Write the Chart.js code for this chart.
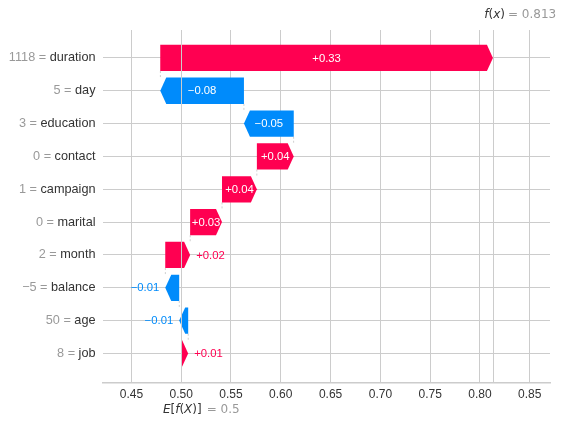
<!DOCTYPE html>
<html><head><meta charset="utf-8">
<script src="https://cdn.jsdelivr.net/npm/chart.js@4"></script>
<style>html,body{margin:0;padding:0;background:#fff}#wrap{width:561px;height:424px}</style>
</head><body><div id="wrap"><canvas id="c"></canvas></div>
<script>
const featureNames = ["duration","day","education","contact","campaign","marital","month","balance","age","job"];
const featureValues = ["1118","5","3","0","1","0","2","\u22125","50","8"];
const shapValues = [0.334,-0.084,-0.050,0.037,0.035,0.032,0.025,-0.014,-0.009,0.007];
const shapLabels = ["+0.33","\u22120.08","\u22120.05","+0.04","+0.04","+0.03","+0.02","\u22120.01","\u22120.01","+0.01"];
const baseValue = 0.5;
const fxValue = 0.813;
const xTicks = [0.45,0.50,0.55,0.60,0.65,0.70,0.75,0.80,0.85];

const RED = '#ff0051', BLUE = '#008bfb';
const n = shapValues.length;
const starts = [], ends = [];
let acc = baseValue;
for (let i = n - 1; i >= 0; i--) { starts[i] = acc; acc += shapValues[i]; ends[i] = acc; }

const HEAD = 6;

function drawSegments(ctx, segs, xRight, y) {
  let total = 0;
  segs.forEach(s => { ctx.font = s.font; total += ctx.measureText(s.t).width; });
  let x = xRight - total;
  ctx.textAlign = 'left';
  segs.forEach(s => { ctx.font = s.font; ctx.fillStyle = s.c; ctx.fillText(s.t, x, y); x += ctx.measureText(s.t).width; });
}

const waterfall = {
  id: 'waterfall',
  beforeDatasetDraw(chart) {
    const ctx = chart.ctx, xs = chart.scales.x, ca = chart.chartArea;
    const meta = chart.getDatasetMeta(0);
    ctx.save();
    // connectors
    ctx.strokeStyle = '#bbbbbb'; ctx.lineWidth = 0.7; ctx.setLineDash([2, 2]);
    for (let i = 0; i < n - 1; i++) {
      const el = meta.data[i], el2 = meta.data[i + 1];
      const x = xs.getPixelForValue(starts[i]);
      ctx.beginPath(); ctx.moveTo(x, el.y + el.height / 2); ctx.lineTo(x, el2.y - el2.height / 2); ctx.stroke();
    }
    ctx.setLineDash([]);
    // arrows
    for (let i = 0; i < n; i++) {
      const el = meta.data[i];
      const x0 = xs.getPixelForValue(starts[i]), x1 = xs.getPixelForValue(ends[i]);
      const dir = x1 >= x0 ? 1 : -1;
      const dist = Math.abs(x1 - x0);
      const hl = Math.min(HEAD, dist);
      const top = el.y - el.height / 2, bot = el.y + el.height / 2;
      ctx.fillStyle = shapValues[i] >= 0 ? RED : BLUE;
      ctx.beginPath();
      ctx.moveTo(x0, top); ctx.lineTo(x1 - dir * hl, top); ctx.lineTo(x1, el.y);
      ctx.lineTo(x1 - dir * hl, bot); ctx.lineTo(x0, bot); ctx.closePath(); ctx.fill();
    }
    // base / fx lines
    ctx.strokeStyle = '#cccccc'; ctx.lineWidth = 1;
    [baseValue, fxValue].forEach(v => {
      const x = Math.round(xs.getPixelForValue(v)) + 0.5;
      ctx.beginPath(); ctx.moveTo(x, ca.top); ctx.lineTo(x, ca.bottom); ctx.stroke();
    });
    // bar labels
    ctx.font = '11.3px "Liberation Sans"';
    ctx.textBaseline = 'middle';
    for (let i = 0; i < n; i++) {
      const el = meta.data[i];
      const x0 = xs.getPixelForValue(starts[i]), x1 = xs.getPixelForValue(ends[i]);
      const dist = Math.abs(x1 - x0);
      const tw = ctx.measureText(shapLabels[i]).width;
      const col = shapValues[i] >= 0 ? RED : BLUE;
      if (tw < dist) {
        ctx.fillStyle = '#ffffff'; ctx.textAlign = 'center';
        ctx.fillText(shapLabels[i], (x0 + x1) / 2, el.y + 0.5);
      } else if (shapValues[i] >= 0) {
        ctx.fillStyle = col; ctx.textAlign = 'left';
        ctx.fillText(shapLabels[i], x1 + 6, el.y + 0.5);
      } else {
        ctx.fillStyle = col; ctx.textAlign = 'right';
        ctx.fillText(shapLabels[i], x1 - 6, el.y + 0.5);
      }
    }
    ctx.restore();
    return false;
  },
  afterDraw(chart) {
    const ctx = chart.ctx, xs = chart.scales.x, ys = chart.scales.y, ca = chart.chartArea;
    ctx.save();
    ctx.textBaseline = 'middle';
    // y labels
    const yf = '12.7px "Liberation Sans"';
    for (let i = 0; i < n; i++) {
      const y = ys.getPixelForValue(i);
      drawSegments(ctx, [
        { t: featureValues[i] + ' = ', c: '#999999', font: yf },
        { t: featureNames[i], c: '#333333', font: yf }
      ], ca.left - 7.5, y);
    }
    const it = 'italic 12px "DejaVu Sans"', rm = '12px "DejaVu Sans"';
    // E[f(X)]
    const bx = xs.getPixelForValue(baseValue);
    drawSegments(ctx, [
      { t: 'E', c: '#333333', font: it }, { t: '[', c: '#333333', font: rm },
      { t: 'f', c: '#333333', font: it }, { t: '(', c: '#333333', font: rm },
      { t: 'X', c: '#333333', font: it }, { t: ')]', c: '#333333', font: rm }
    ], bx + 20.5, 410);
    ctx.font = rm; ctx.fillStyle = '#999999'; ctx.textAlign = 'left';
    ctx.fillText('= ' + String(baseValue), bx + 25.5, 410);
    // f(x)
    const fx = xs.getPixelForValue(fxValue);
    drawSegments(ctx, [
      { t: 'f', c: '#333333', font: it }, { t: '(', c: '#333333', font: rm },
      { t: 'x', c: '#333333', font: it }, { t: ')', c: '#333333', font: rm }
    ], fx + 12, 15);
    ctx.font = rm; ctx.fillStyle = '#999999'; ctx.textAlign = 'left';
    ctx.fillText('= ' + String(fxValue), fx + 15, 15);
    ctx.restore();
  }
};

Chart.defaults.font.family = '"Liberation Sans"';
new Chart(document.getElementById('c'), {
  type: 'bar',
  data: {
    datasets: [{
      data: shapValues.map((v, i) => ({ x: [starts[i], ends[i]], y: i })),
      backgroundColor: shapValues.map(v => v >= 0 ? RED : BLUE),
      barPercentage: 0.8,
      categoryPercentage: 1
    }]
  },
  options: {
    indexAxis: 'y',
    responsive: true,
    maintainAspectRatio: false,
    animation: false,
    layout: { padding: { top: 30, right: 11, left: 0, bottom: 0 } },
    plugins: { legend: { display: false }, tooltip: { enabled: false } },
    scales: {
      x: {
        type: 'linear',
        offset: false,
        min: 0.4215, max: 0.8703,
        afterBuildTicks(s) { s.ticks = xTicks.map(v => ({ value: v })); },
        afterFit(s) { s.height = 41; },
        grid: { color: '#cccccc', lineWidth: 1, drawTicks: false, offset: false },
        border: { display: true, color: '#cccccc', width: 1.5 },
        ticks: { padding: 4, color: '#333333', font: { size: 12 }, callback: v => Number(v).toFixed(2) }
      },
      y: {
        type: 'linear',
        reverse: true,
        offset: false,
        min: -0.85, max: 9.9,
        afterBuildTicks(s) { s.ticks = featureNames.map((_, i) => ({ value: i })); },
        afterFit(s) { s.width = 103; },
        grid: { color: '#cccccc', lineWidth: 1, drawTicks: false, offset: false },
        border: { display: false },
        ticks: { display: false }
      }
    }
  },
  plugins: [waterfall]
});
</script>
</body></html>
